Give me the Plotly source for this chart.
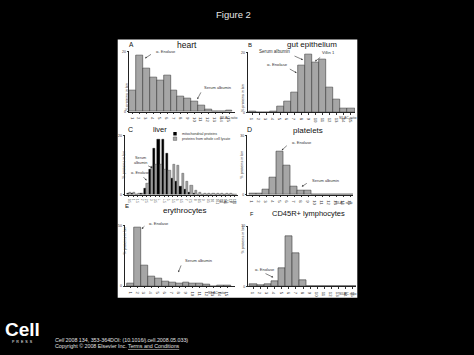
import plotly.graph_objects as go

W, H = 474, 355

# ---------------- data ----------------
bins15 = list(range(1, 16))
heart = [7.1, 18.7, 14.2, 11.5, 10.5, 12.0, 7.0, 5.2, 4.3, 3.4, 2.1, 0.8, 0, 0, 0.3]
gut = [0.4, 0, 0, 0.4, 1.9, 3.8, 6.6, 15.8, 19.2, 16.7, 17.6, 8.5, 4.5, 1.2, 1.2]
platelets = [0.5, 0.5, 2.7, 9.0, 21.7, 15.0, 4.0, 2.0, 2.3, 0.2, 0, 0, 0.2, 0, 0]
erythro = [1.9, 48.6, 16.8, 8.2, 6.0, 4.1, 2.7, 1.9, 2.7, 1.9, 1.9, 1.1, 0, 0.2, 0.2]
lympho = [1.3, 0.5, 1.1, 2.8, 9.0, 25.0, 16.4, 3.3, 0, 0, 0, 0, 0, 0, 0]

liver_bins = [0.5 + 0.5 * k for k in range(25)]
liver_mito = [0.3, 0.3, 0.2, 0.5, 2.0, 8.7, 15.6, 18.6, 18.6, 13.9, 5.6, 4.4, 2.8,
              1.7, 0.9, 0.4, 0.2, 0, 0.2, 0, 0, 0, 0.1, 0, 0]
liver_whole = [0.8, 0.8, 0.6, 0.4, 3.9, 9.4, 10.2, 10.2, 8.6, 8.3, 10.2, 10.0, 7.2,
               4.4, 3.1, 1.3, 0.9, 0.6, 0.6, 0.5, 0.4, 0.3, 0.3, 0.3, 0.2]
liver_ticks = [0.5 * k for k in range(1, 26)]

FONT = "Liberation Sans, Arial, sans-serif"
GRAY = "#a6a6a6"
EDGE = "#3a3a3a"


def px(x):
    return x / W


def py(y):
    return 1 - y / H


fig = go.Figure()

# panels: (name, xdom px, ydom px (top, bottom), xrange, ymax)
panels = [
    ("A", (129, 235), (50, 111), (0.46, 15.87), 20),
    ("B", (248, 355), (51, 111.7), (0.39, 15.57), 20),
    ("C", (125, 238), (135, 195), (0.06, 12.9), 20),
    ("D", (247.3, 353), (135, 195), (0.28, 15.43), 30),
    ("E", (125, 235), (226, 287.3), (0.17, 16.1), 50),
    ("F", (248.3, 356), (226.7, 287.7), (0.3, 15.46), 30),
]
series = {"A": heart, "B": gut, "D": platelets, "E": erythro, "F": lympho}

layout_axes = {}
for i, (name, xd, yd, xr, ymax) in enumerate(panels):
    n = "" if i == 0 else str(i + 1)
    xa, ya = "x" + n, "y" + n
    if name == "C":
        fig.add_trace(go.Bar(x=liver_bins, y=liver_mito, xaxis=xa, yaxis=ya,
                             offset=-0.25, width=0.25,
                             marker=dict(color="black", line=dict(color="black", width=0.4))))
        fig.add_trace(go.Bar(x=liver_bins, y=liver_whole, xaxis=xa, yaxis=ya,
                             offset=0, width=0.25,
                             marker=dict(color=GRAY, line=dict(color=EDGE, width=0.4))))
        tickvals = liver_ticks
        ticktext = [("%g" % t) for t in liver_ticks]
        tfs = 2.6
    else:
        fig.add_trace(go.Bar(x=bins15, y=series[name], xaxis=xa, yaxis=ya, width=1,
                             marker=dict(color=GRAY, line=dict(color=EDGE, width=0.6))))
        tickvals = bins15
        ticktext = [str(b) for b in bins15]
        tfs = 4.2
    layout_axes["xaxis" + n] = dict(
        domain=[px(xd[0]), px(xd[1])], range=list(xr), anchor=ya,
        showline=True, linecolor="#222", linewidth=0.8, showgrid=False, zeroline=False,
        tickmode="array", tickvals=tickvals, ticktext=ticktext, ticks="outside",
        ticklen=1.5, tickwidth=0.5, tickcolor="#333",
        tickfont=dict(family=FONT, size=tfs, color="#333"), fixedrange=True)
    layout_axes["yaxis" + n] = dict(
        domain=[py(yd[1]), py(yd[0])], range=[0, ymax], anchor=xa,
        showline=True, linecolor="#222", linewidth=0.8, showgrid=False, zeroline=False,
        tickmode="array", tickvals=[0, ymax], ticks="outside", ticklen=1.5,
        tickwidth=0.5, tickcolor="#333",
        tickfont=dict(family=FONT, size=3.5, color="#333"), fixedrange=True)

fig.update_layout(**layout_axes)

ann = []


def text(x, y, s, size=4.5, color="#333", xanchor="center", **kw):
    ann.append(dict(x=px(x), y=py(y), xref="paper", yref="paper", text=s,
                    showarrow=False, xanchor=xanchor, yanchor="middle",
                    font=dict(family=FONT, size=size, color=color), **kw))


def arrow(x0, y0, x1, y1):
    ann.append(dict(x=px(x1), y=py(y1), xref="paper", yref="paper", text="",
                    showarrow=True, ax=x0 - x1, ay=y0 - y1, axref="pixel", ayref="pixel",
                    arrowhead=2, arrowsize=0.6, arrowwidth=0.6, arrowcolor="#333"))


# header / footer
text(233, 13, "Figure 2", size=9.5, color="#e6e6e6")
text(22, 331, "<b>Cell</b>", size=19, color="white")
text(22, 344, "P  R  E  S  S", size=3.6, color="white")
text(52.5, 341.5, "<i>Cell</i> 2008 134, 353-364DOI: (10.1016/j.cell.2008.05.033)",
     size=5.3, color="#e0e0e0", xanchor="left")
text(52.5, 348, "Copyright © 2008 Elsevier Inc. <u>Terms and Conditions</u>",
     size=5.3, color="#e0e0e0", xanchor="left")

# panel letters and titles
text(131, 43, "A", size=6.5, color="#111")
text(187, 43, "heart", size=8.5, color="#111")
text(250, 43, "B", size=6, color="#111")
text(312, 43, "gut epithelium", size=8, color="#111")
text(130, 128.5, "C", size=7, color="#111")
text(160, 128.5, "liver", size=7.5, color="#111")
text(249, 128.5, "D", size=7, color="#111")
text(308, 130, "platelets", size=8, color="#111")
text(127, 206, "E", size=6, color="#111")
text(185, 211, "erythrocytes", size=8, color="#111")
text(252, 214, "F", size=5.5, color="#111")
text(308, 213.5, "CD45R+ lymphocytes", size=7.5, color="#111")

# liver legend
ann_shapes = []
ann_shapes.append(dict(type="rect", xref="paper", yref="paper", x0=px(173.3), x1=px(176.7),
                       y0=py(135), y1=py(131.5), fillcolor="black", line=dict(width=0)))
ann_shapes.append(dict(type="rect", xref="paper", yref="paper", x0=px(173.3), x1=px(176.7),
                       y0=py(140), y1=py(136.5), fillcolor=GRAY, line=dict(color=EDGE, width=0.4)))
text(179.5, 133.3, "mitochondrial proteins", size=3.6, xanchor="left")
text(179.5, 138.3, "proteins from whole cell lysate", size=3.6, xanchor="left")

# y titles and x titles
for (x, y) in [(123, 80), (243, 81), (120.5, 165), (242.5, 165), (121.5, 257), (243.5, 257)]:
    ann.append(dict(x=px(x), y=py(y), xref="paper", yref="paper", text="% proteins in bin",
                    showarrow=False, textangle=-90,
                    font=dict(family=FONT, size=3.8, color="#333")))
for (x, y) in [(228, 117.5), (347, 117.5), (227, 202), (343, 203), (216, 294), (347, 295)]:
    text(x, y, "SILAC ratio", size=3.4)

# protein annotations
text(154, 50, "α- Enolase", size=4, xanchor="left")
arrow(152.5, 52, 145, 57)
text(202, 86.7, "Serum albumin", size=4, xanchor="left")
arrow(201.7, 90, 197.3, 98.3)

text(274, 50, "Serum albumin", size=4.6)
arrow(293, 54, 303, 58.5)
text(328, 51, "Villin 1", size=4.2)
arrow(321.7, 55, 315, 60)
text(277, 63.5, "α- Enolase", size=4.2)
arrow(288.3, 67, 296.7, 71.7)

text(140, 158, "Serum", size=3.8)
text(140, 162.5, "albumin", size=3.8)
arrow(146.7, 165, 152.7, 168)
text(140, 173.3, "α- Enolase", size=3.8)
arrow(142, 175.7, 146.7, 180.5)

text(290, 141.7, "α- Enolase", size=4, xanchor="left")
arrow(288.3, 144, 281.7, 150)
text(310, 181, "Serum albumin", size=4, xanchor="left")
arrow(308.3, 182.5, 301.7, 186.7)

text(147, 224.3, "α- Enolase", size=4, xanchor="left")
arrow(146, 225.3, 141.7, 229.5)
text(183, 261.7, "Serum albumin", size=4, xanchor="left")
arrow(181.7, 265, 178.3, 273.3)

text(253, 270.7, "α- Enolase", size=4, xanchor="left")
arrow(264, 274, 273.3, 278.5)

shapes = [dict(type="rect", xref="paper", yref="paper", x0=px(117.7), x1=px(357.3),
               y0=py(299), y1=py(38), fillcolor="white", line=dict(width=0), layer="below")]
shapes += ann_shapes

fig.update_layout(width=W, height=H, margin=dict(l=0, r=0, t=0, b=0),
                  paper_bgcolor="black", plot_bgcolor="rgba(0,0,0,0)",
                  showlegend=False, barmode="overlay", bargap=0,
                  annotations=ann, shapes=shapes)

fig.write_html("out.html")
